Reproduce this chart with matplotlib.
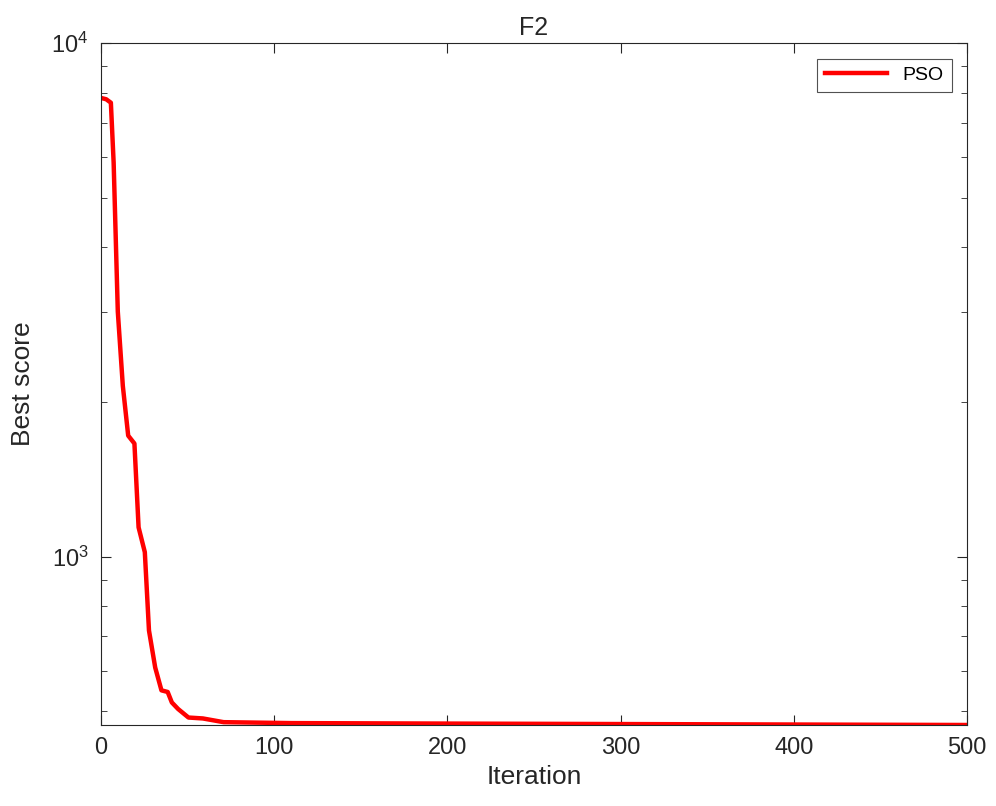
import matplotlib
matplotlib.use("Agg")
import matplotlib.pyplot as plt
import numpy as np

iters = [1, 3, 5.7, 7.3, 9.7, 12.6, 15.7, 19.3, 21.7, 25.3, 27.7, 31.3, 34.9, 38.5, 40.9, 44.5, 50.5, 58.8, 70.8, 110, 200, 300, 400, 500]
scores = [7800, 7770, 7650, 5850, 3000, 2150, 1720, 1660, 1140, 1020, 718, 608, 549, 545, 520, 505, 486, 484, 476, 474, 473, 472, 471, 470]

plt.rcParams['font.family'] = ['Liberation Sans', 'DejaVu Sans']
fig = plt.figure(figsize=(9.96, 8.06), dpi=100)
ax = fig.add_axes([0.1014, 0.1005, 0.8696, 0.8462])
ax.semilogy(iters, scores, color='red', lw=3.2, label='PSO')
ax.set_xlim(0, 500)
ax.set_ylim(470, 1e4)
ax.set_xticks([0, 100, 200, 300, 400, 500])
ax.tick_params(which='both', direction='in', top=True, right=True, labelsize=17, colors='#262626', pad=9)
ax.tick_params(which='major', length=7)
ax.tick_params(which='minor', length=4)
for s in ax.spines.values():
    s.set_color('#262626'); s.set_linewidth(0.8)
ax.set_xlabel('Iteration', fontsize=19, color='#262626', labelpad=4)
ax.set_ylabel('Best score', fontsize=19, color='#262626', labelpad=12)
ax.set_title('F2', fontsize=18, color='#262626', pad=6)
leg = ax.legend(loc='upper right', fontsize=14, fancybox=False, edgecolor='#262626', handlelength=3.2, borderaxespad=0.8)
leg.get_frame().set_linewidth(0.8)
fig.savefig('out.png', dpi=100)
